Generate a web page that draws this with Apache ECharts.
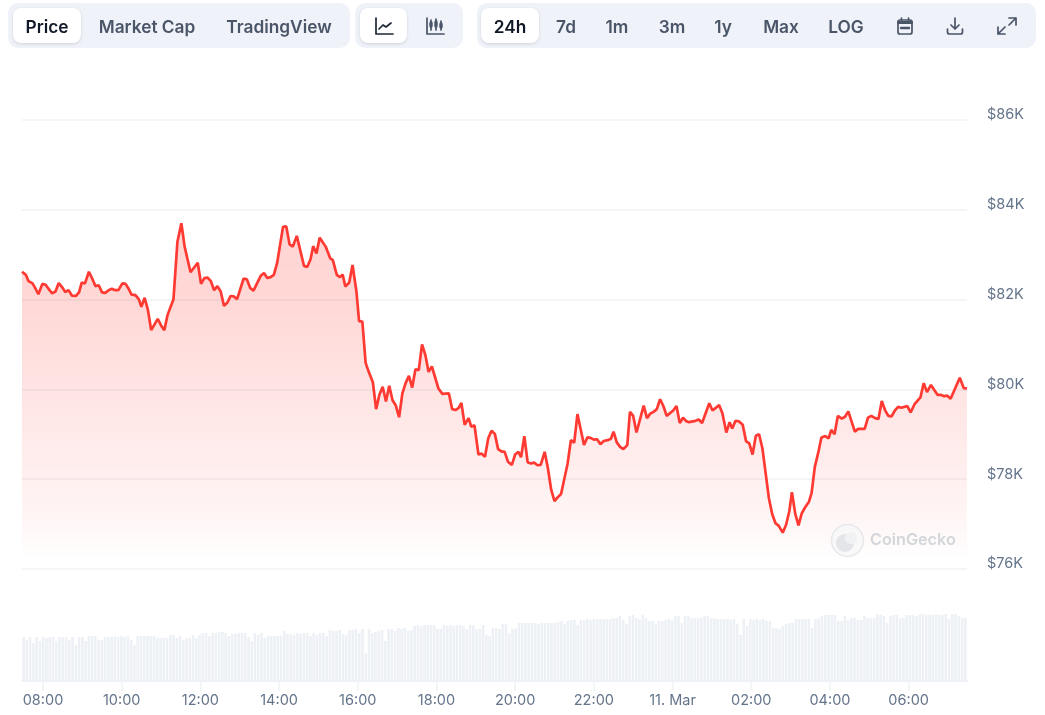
<!DOCTYPE html>
<html lang="en">
<head>
    <meta charset="UTF-8">
    <title>Bitcoin price 24h</title>
    <script src="https://cdn.jsdelivr.net/npm/echarts@6/dist/echarts.min.js"></script>
    <style>
        html, body { margin: 0; padding: 0; background: #fff; font-family: Inter, sans-serif; }
        #page { position: relative; width: 1045px; height: 715px; overflow: hidden; }
        #chart-container { position: absolute; left: 0; top: 0; width: 1045px; height: 715px; }
        .group { position: absolute; top: 3px; height: 45px; background: #eff2f8; border-radius: 10px; z-index: 2; }
        .active { position: absolute; top: 8px; height: 35px; background: #fff; border-radius: 8px; box-shadow: 0 1px 3px rgba(15, 23, 42, .14); z-index: 3; }
        .btn { position: absolute; top: 25.500px; transform: translate(-50%, -50%); font-size: 17.300px; font-weight: 600; color: #4a5568; white-space: nowrap; z-index: 4; }
        .btn.on { color: #111827; }
        svg.btn { fill: none; stroke: #4a5568; stroke-width: 1.7; stroke-linecap: round; stroke-linejoin: round; }
        svg.btn.on { stroke: #1f2937; }
    </style>
</head>
<body>
<div id="page">
    <div class="group" style="left:8px;width:342px"></div>
    <div class="group" style="left:355px;width:108px"></div>
    <div class="group" style="left:477px;width:559px"></div>
    <div class="active" style="left:13px;width:68px"></div>
    <div class="active" style="left:360px;width:47px"></div>
    <div class="active" style="left:481px;width:58px"></div>

    <span class="btn on" style="left:47px">Price</span>
    <span class="btn" style="left:147px">Market Cap</span>
    <span class="btn" style="left:279px">TradingView</span>
    <svg class="btn on" style="left:384px" width="20" height="20" viewBox="0 0 20 20"><path d="M2 2v16h17M5 13l4-4 3 2 5-4"/></svg>
    <svg class="btn" style="left:435px" width="20" height="20" viewBox="0 0 20 20"><path d="M2 2v16h17M6 4v10M11 3v11M16 5v9"/><path stroke-width="3.4" d="M6 7v3M11 6v4M16 8v3"/></svg>
    <span class="btn on" style="left:510px">24h</span>
    <span class="btn" style="left:566px">7d</span>
    <span class="btn" style="left:617px">1m</span>
    <span class="btn" style="left:672px">3m</span>
    <span class="btn" style="left:723px">1y</span>
    <span class="btn" style="left:781px">Max</span>
    <span class="btn" style="left:846px">LOG</span>
    <svg class="btn" style="left:905px" width="20" height="20" viewBox="0 0 20 20"><rect x="3" y="4" width="14" height="14" rx="2"/><path stroke-width="3" d="M3.5 6.5h13"/><path stroke-width="2.4" d="M6 12h8"/><path d="M6.5 2v2M13.5 2v2"/></svg>
    <svg class="btn" style="left:955px" width="20" height="20" viewBox="0 0 20 20"><path d="M10 2v11M6 9l4 4 4-4M2.500 13v3a2 2 0 0 0 2 2h11a2 2 0 0 0 2-2v-3"/></svg>
    <svg class="btn" style="left:1007px" width="20" height="20" viewBox="0 0 20 20"><path d="M12 2h7v7M19 2l-7 7M8 18H1v-7M1 18l7-7"/></svg>

    <div id="chart-container"></div>
</div>
<script>
    // minutes since 00:00 on 10 Mar, one entry per visible vertex of the line
    var priceMinutes = [
        448,454,458,464,468,473,479,484,490,494,499,504,509,514,519,524,530,535,539,544,
        550,555,560,565,570,575,580,585,590,595,601,606,611,615,621,626,630,635,640,645,
        655,661,665,670,679,685,691,696,705,716,721,726,731,736,741,746,751,756,761,766,
        771,776,786,791,796,801,812,817,822,827,832,837,846,851,856,861,867,878,883,888,
        892,897,902,911,918,922,928,933,937,941,947,952,958,962,967,972,977,983,988,993,
        998,1003,1008,1013,1018,1023,1028,1033,1038,1043,1048,1053,1058,1063,1068,1073,1083,1089,1099,1104,
        1109,1114,1118,1123,1129,1133,1138,1144,1149,1154,1159,1164,1169,1174,1179,1184,1189,1195,1200,1205,
        1209,1214,1219,1224,1229,1234,1239,1245,1250,1255,1260,1265,1270,1280,1285,1290,1295,1305,1310,1315,
        1320,1325,1330,1335,1341,1346,1350,1355,1360,1365,1371,1375,1380,1385,1396,1401,1406,1411,1416,1421,
        1426,1431,1441,1446,1451,1456,1461,1465,1475,1480,1485,1496,1501,1511,1516,1522,1527,1531,1536,1541,
        1547,1552,1557,1562,1567,1572,1577,1582,1587,1592,1597,1602,1608,1613,1618,1622,1627,1632,1637,1642,
        1648,1652,1657,1662,1667,1673,1678,1682,1687,1692,1698,1703,1708,1718,1723,1733,1738,1743,1749,1754,
        1759,1764,1769,1774,1779,1784,1789,1798,1803,1809,1818,1823,1828,1834,1844,1849,1854,1859,1864,1878,
        1884,1889
    ];
    var priceValues = [
        82620,82550,82410,82360,82260,82120,82350,82330,82210,82140,82180,82370,82280,82170,82210,82090,82080,82160,82380,82360,
        82620,82470,82300,82320,82160,82150,82210,82240,82210,82210,82360,82350,82230,82110,82100,82010,81840,82040,81770,81320,
        81570,81400,81320,81660,82010,83290,83700,83180,82610,82820,82350,82480,82490,82410,82210,82300,82180,81860,81930,82080,
        82070,82010,82470,82450,82260,82200,82530,82590,82480,82500,82550,82810,83620,83630,83230,83180,83420,82750,82730,82900,
        83190,83030,83380,83180,82920,82880,82550,82500,82560,82290,82380,82770,82180,81520,81510,80590,80380,80160,79560,79880,
        80060,79730,80080,79760,79640,79380,79910,80140,80300,80040,80450,80430,81000,80770,80390,80510,80020,79900,79910,79560,
        79540,79590,79700,79210,79360,79170,79200,78550,78570,78500,78910,79080,79010,78670,78620,78610,78390,78320,78550,78610,
        78490,78960,78380,78350,78370,78310,78320,78610,78240,77760,77510,77600,77670,78350,78870,78810,79450,78760,78930,78920,
        78880,78890,78780,78850,78870,78900,79060,78820,78720,78670,78760,79500,79410,79040,79640,79360,79460,79500,79560,79780,
        79630,79410,79530,79630,79250,79370,79290,79270,79300,79330,79250,79690,79530,79650,79470,79040,79270,79130,79300,79290,
        79210,78850,78800,78550,78970,79000,78690,78130,77570,77220,77020,76960,76810,76980,77280,77710,77240,76970,77240,77370,
        77500,77690,78280,78580,78930,78960,78910,79100,79000,79410,79350,79390,79510,79060,79120,79120,79370,79410,79360,79340,
        79740,79540,79410,79400,79530,79610,79590,79630,79490,79670,79820,80140,79940,80100,79880,79880,79850,79860,79790,80260,
        80030,80020
    ];
    // volume in $B, oldest bar first
    var volumeValues = [
        44,41,44,38,44,40,44,43,44,44,40,44,44,44,41,44,36,44,44,40,45,45,45,41,41,44,44,44,45,44,45,44,45,41,36,45,
        45,45,45,45,45,43,43,43,43,46,46,43,45,41,43,43,46,43,46,48,48,45,48,48,49,49,48,45,47,47,48,48,48,44,40,48,
        46,48,43,45,45,45,45,45,50,47,47,46,48,47,48,48,45,48,46,48,48,45,51,50,50,51,47,46,51,51,52,48,52,28,52,48,
        49,50,51,40,52,52,50,53,52,53,50,51,55,56,55,56,56,56,56,52,52,56,55,56,55,56,56,55,52,56,56,52,52,56,46,45,53,
        53,52,57,57,48,52,53,58,58,58,58,58,58,57,58,58,58,58,58,59,60,57,60,61,61,56,61,61,62,61,62,62,62,62,62,62,
        63,63,65,61,57,65,66,63,62,66,63,60,60,57,60,60,61,62,61,65,65,58,65,65,63,63,63,63,65,65,63,63,62,62,62,62,
        61,62,57,46,62,55,62,61,62,61,62,60,60,53,53,52,55,57,58,58,62,62,62,62,62,53,62,63,65,66,66,66,66,60,60,65,
        61,63,63,61,61,65,63,63,63,67,66,65,58,65,66,66,63,63,66,66,66,65,67,67,66,66,66,67,66,66,67,62,67,67,65,63,63
    ];
    var tickMinutes = [480, 600, 720, 840, 960, 1080, 1200, 1320, 1440, 1560, 1680, 1800];
    var tickLabels = ['08:00', '10:00', '12:00', '14:00', '16:00', '18:00', '20:00', '22:00', '11. Mar', '02:00', '04:00', '06:00'];

    var myChart = echarts.init(document.getElementById('chart-container'));

    var labelColor = '#64748b';
    var lineGrey = '#eff2f5';

    var option = {
        animation: false,
        textStyle: { fontFamily: 'Inter' },
        grid: [
            { left: 22, width: 945, top: 120, height: 449 },
            { left: 22, width: 945, top: 581, height: 100 }
        ],
        xAxis: [
            { type: 'value', gridIndex: 0, min: 448, max: 1889, show: false },
            {
                type: 'value',
                gridIndex: 1,
                min: 448,
                max: 1889,
                position: 'bottom',
                splitLine: { show: false },
                axisLine: { show: true, lineStyle: { color: lineGrey, width: 2 } },
                axisTick: { show: true, length: 10, customValues: tickMinutes, lineStyle: { color: lineGrey, width: 1.5 } },
                axisLabel: {
                    customValues: tickMinutes,
                    color: labelColor,
                    fontSize: 14.5,
                    margin: 12,
                    formatter: function (v) { return tickLabels[tickMinutes.indexOf(v)]; }
                }
            },
            {
                type: 'category',
                gridIndex: 1,
                show: false,
                data: volumeValues.map(function (v, i) { return i; })
            }
        ],
        yAxis: [
            {
                type: 'value',
                gridIndex: 0,
                position: 'right',
                min: 76000,
                max: 86000,
                interval: 2000,
                axisLine: { show: false },
                axisTick: { show: false },
                splitLine: { lineStyle: { color: lineGrey, width: 1.5 } },
                axisLabel: {
                    color: labelColor,
                    fontSize: 14.5,
                    margin: 20,
                    verticalAlign: 'bottom',
                    lineHeight: 10,
                    formatter: function (v) { return '$' + v / 1000 + 'K'; }
                }
            },
            { type: 'value', gridIndex: 1, min: 0, max: 100, show: false }
        ],
        graphic: [
            { type: 'circle', silent: true, z: 5, shape: { cx: 847.5, cy: 540.5, r: 16 }, style: { fill: '#f8f8f9', stroke: '#e6e8eb', lineWidth: 1.5 } },
            { type: 'circle', silent: true, z: 6, shape: { cx: 845, cy: 543, r: 9 }, style: { fill: '#e3e5e8' } },
            { type: 'circle', silent: true, z: 6, shape: { cx: 851, cy: 538, r: 6 }, style: { fill: '#f1f2f3' } },
            { type: 'text', silent: true, z: 6, x: 870, y: 540, style: { text: 'CoinGecko', font: '600 16.200px Inter', fill: '#d3d6da', verticalAlign: 'middle' } }
        ],
        series: [
            {
                name: 'Price',
                type: 'line',
                xAxisIndex: 0,
                yAxisIndex: 0,
                showSymbol: false,
                z: 3,
                lineStyle: { color: '#ff3a33', width: 2.7 },
                areaStyle: {
                    color: new echarts.graphic.LinearGradient(0, 0, 0, 1, [
                        { offset: 0, color: 'rgba(255, 58, 51, 0.3)' },
                        { offset: 0.2, color: 'rgba(255, 58, 51, 0.29)' },
                        { offset: 0.5, color: 'rgba(255, 58, 51, 0.19)' },
                        { offset: 0.7, color: 'rgba(255, 58, 51, 0.125)' },
                        { offset: 0.89, color: 'rgba(255, 58, 51, 0.05)' },
                        { offset: 0.97, color: 'rgba(255, 58, 51, 0)' }
                    ])
                },
                data: priceMinutes.map(function (m, i) { return [m, priceValues[i]]; })
            },
            {
                name: 'Volume',
                type: 'bar',
                xAxisIndex: 2,
                yAxisIndex: 1,
                barWidth: 2.6,
                itemStyle: { color: '#edf1f5' },
                data: volumeValues
            }
        ]
    };

    myChart.setOption(option);
</script>
</body>
</html>
